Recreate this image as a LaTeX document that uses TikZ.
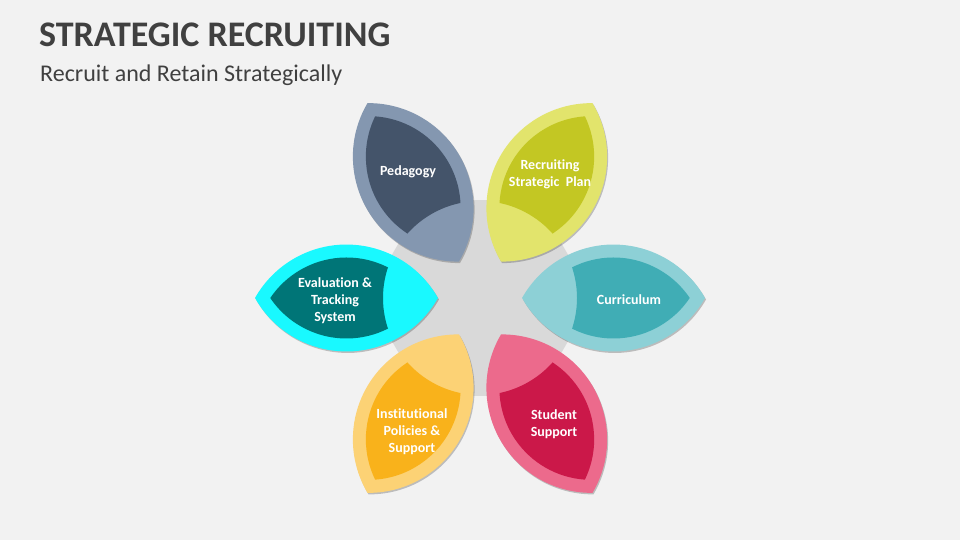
\documentclass[tikz,border=0pt]{standalone}
\usepackage{fontspec}
\setmainfont{Carlito}[Ligatures=NoCommon]

\definecolor{bgGray}{HTML}{F2F2F2}
\definecolor{hexGray}{HTML}{D9D9D9}
\definecolor{titleGray}{HTML}{404040}
\definecolor{pedLight}{HTML}{8497B0}
\definecolor{pedDark}{HTML}{44546A}
\definecolor{recLight}{HTML}{E2E46C}
\definecolor{recDark}{HTML}{C3C723}
\definecolor{curLight}{HTML}{8DD0D6}
\definecolor{curDark}{HTML}{40ADB5}
\definecolor{stuLight}{HTML}{EC6A8C}
\definecolor{stuDark}{HTML}{CB1849}
\definecolor{insLight}{HTML}{FCD275}
\definecolor{insDark}{HTML}{F9B21B}
\definecolor{evaLight}{HTML}{19F9FF}
\definecolor{evaDark}{HTML}{007577}

\def\tipOut{225}
\def\arcRad{105}
\def\innerTip{209.74}
\def\innerRad{92}
\def\cutRad{97}
\def\hexRad{113}

\tikzset{
  petal label/.style={text=white, align=center, inner sep=0pt,
    font=\bfseries\fontsize{14}{17}\selectfont},
  head text/.style={anchor=base west, inner sep=0pt, text=titleGray}
}

\begin{document}
\begin{tikzpicture}[x=1pt,y=1pt]
    \fill[bgGray] (0,0) rectangle (960,540);
    \useasboundingbox (0,0) rectangle (960,540);

    \node[head text, font=\bfseries\fontsize{36}{40}\selectfont] (title) at (39,493) {STRATEGIC RECRUITING};
    \node[head text, font=\fontsize{24}{28}\selectfont] (subtitle) at (40,458) {Recruit and Retain Strategically};

    \begin{scope}[shift={(480,242)}]
      \fill[hexGray] (0:\hexRad) -- (60:\hexRad) -- (120:\hexRad) -- (180:\hexRad) -- (240:\hexRad) -- (300:\hexRad) -- cycle;

      \foreach \a/\light/\dark/\lx/\ly/\t in {0/curLight/curDark/149/-2/{Curriculum},
          60/recLight/recDark/70/123.4/{Recruiting\\Strategic\ \ Plan},
          120/pedLight/pedDark/-72/126.4/{Pedagogy},
          180/evaLight/evaDark/-145/-3/{Evaluation \&\\Tracking\\System},
          240/insLight/insDark/-68/-133.4/{Institutional\\Policies \&\\Support},
          300/stuLight/stuDark/74/-126.4/{Student\\Support}} {
        % shadow
        \begin{scope}[shift={(1,-1.5)}, rotate=\a]
          \fill[black, opacity=0.22] (\tipOut,0) arc[start angle=29.4, end angle=150.6, radius=\arcRad]
            arc[start angle=209.4, end angle=330.6, radius=\arcRad] -- cycle;
        \end{scope}
        \begin{scope}[rotate=\a]
          \fill[\light] (\tipOut,0) arc[start angle=29.4, end angle=150.6, radius=\arcRad]
            arc[start angle=209.4, end angle=330.6, radius=\arcRad] -- cycle;
          \clip (\innerTip,0) arc[start angle=34.04, end angle=145.96, radius=\innerRad]
            arc[start angle=214.04, end angle=325.96, radius=\innerRad] -- cycle;
          \fill[\dark, even odd rule] (0,0) circle[radius=240] (0,0) circle[radius=\cutRad];
        \end{scope}
        \node[petal label] (lbl\a) at (\lx,\ly) {\t};
      }
    \end{scope}
  \end{tikzpicture}
\end{document}
